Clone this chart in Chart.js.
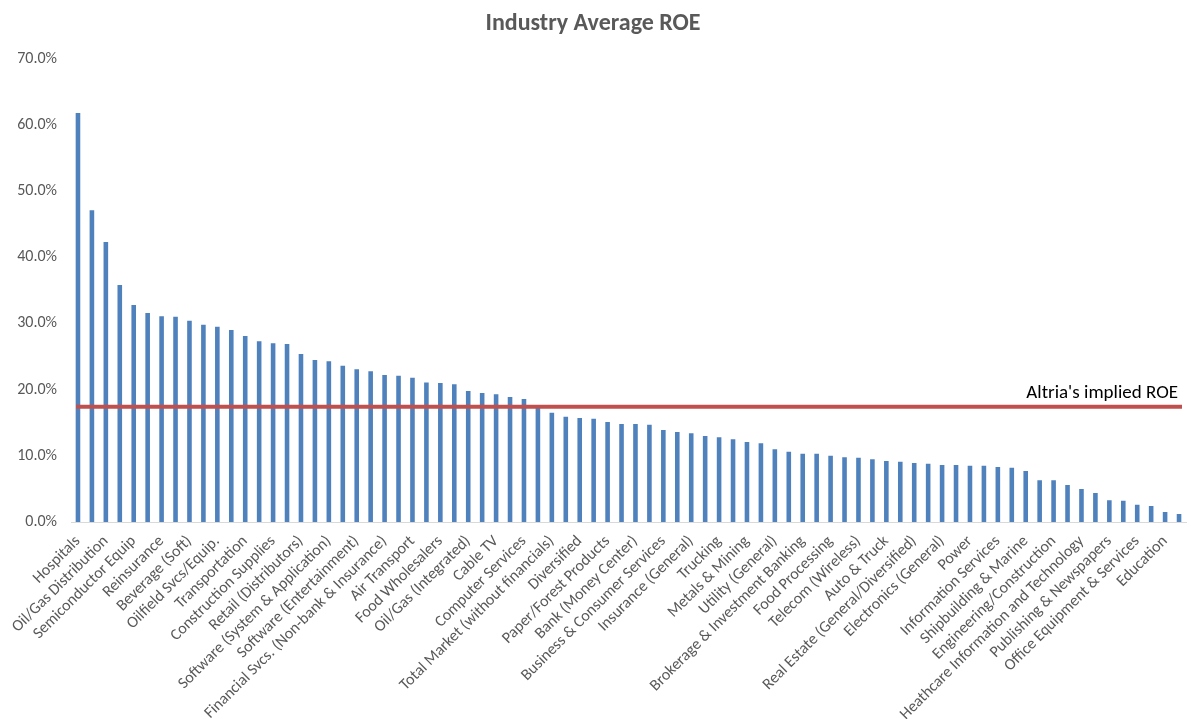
<!DOCTYPE html>
<html>
<head>
<meta charset="utf-8">
<script src="https://cdn.jsdelivr.net/npm/chart.js@4.4.1/dist/chart.umd.min.js"></script>
<style>
    html, body { margin: 0; padding: 0; background: #fff; }
    #wrap { width: 1204px; height: 719px; }
</style>
</head>
<body>
<div id="wrap"><canvas id="roeChart" width="1204" height="719"></canvas></div>
<script>
// Industry names, sorted by ROE (only every other one is printed on the axis)
const industries = [
    'Hospitals', 'Household Products', 'Oil/Gas Distribution', 'Drugs (Pharmaceutical)',
    'Semiconductor Equip', 'Restaurant/Dining', 'Reinsurance', 'Retail (Building Supply)',
    'Beverage (Soft)', 'Computers/Peripherals', 'Oilfield Svcs/Equip.', 'Aerospace/Defense',
    'Transportation', 'Chemical (Specialty)', 'Construction Supplies', 'Apparel',
    'Retail (Distributors)', 'Packaging & Container', 'Software (System & Application)', 'Retail (General)',
    'Software (Entertainment)', 'Machinery', 'Financial Svcs. (Non-bank & Insurance)', 'Homebuilding',
    'Air Transport', 'Building Materials', 'Food Wholesalers', 'Healthcare Products',
    'Oil/Gas (Integrated)', 'Electrical Equipment', 'Cable TV', 'Retail (Automotive)',
    'Computer Services', 'Broadcasting', 'Total Market (without financials)', 'Advertising',
    'Diversified', 'Shoe', 'Paper/Forest Products', 'Toiletries/Cosmetics',
    'Bank (Money Center)', 'Entertainment', 'Business & Consumer Services', 'Chemical (Diversified)',
    'Insurance (General)', 'Recreation', 'Trucking', 'Rubber& Tires',
    'Metals & Mining', 'Steel', 'Utility (General)', 'Auto Parts',
    'Brokerage & Investment Banking', 'Farming/Agriculture', 'Food Processing', 'Telecom. Services',
    'Telecom (Wireless)', 'Retail (Grocery and Food)', 'Auto & Truck', 'Banks (Regional)',
    'Real Estate (General/Diversified)', 'Chemical (Basic)', 'Electronics (General)', 'Electronics (Consumer & Office)',
    'Power', 'Telecom. Equipment', 'Information Services', 'Environmental & Waste Services',
    'Shipbuilding & Marine', 'Hotel/Gaming', 'Engineering/Construction', 'Furn/Home Furnishings',
    'Heathcare Information and Technology', 'Insurance (Life)', 'Publishing & Newspapers', 'Coal & Related Energy',
    'Office Equipment & Services', 'Investments & Asset Management', 'Education', 'Precious Metals'
];

// Average ROE in percent
const roeValues = [
    61.8, 47.1, 42.3, 35.8, 32.8, 31.6, 31.1, 31.0, 30.4, 29.8,
    29.5, 29.0, 28.1, 27.3, 27.0, 26.9, 25.4, 24.5, 24.3, 23.6,
    23.1, 22.8, 22.2, 22.1, 21.8, 21.1, 21.0, 20.8, 19.8, 19.5,
    19.3, 18.9, 18.6, 17.5, 16.5, 15.9, 15.7, 15.6, 15.1, 14.8,
    14.8, 14.7, 13.9, 13.6, 13.4, 13.0, 12.8, 12.5, 12.1, 11.9,
    11.0, 10.6, 10.3, 10.3, 10.0, 9.8, 9.7, 9.5, 9.2, 9.1,
    8.9, 8.8, 8.6, 8.6, 8.5, 8.5, 8.3, 8.2, 7.7, 6.3,
    6.3, 5.6, 5.0, 4.4, 3.3, 3.2, 2.6, 2.4, 1.5, 1.2
];

// Reference level
const altriaLabel = "Altria's implied ROE";
const altriaRoe = 17.4;

// Y axis ticks
const yTicks = [0, 10, 20, 30, 40, 50, 60, 70];

const FONT = 'Carlito, Lato, sans-serif';
const GREY = '#595959';

// Draws the horizontal Altria line and its caption
const referenceLinePlugin = {
    id: 'referenceLine',
    afterDatasetsDraw(chart) {
        const { ctx, chartArea, scales } = chart;
        const y = scales.y.getPixelForValue(altriaRoe);
        ctx.save();
        ctx.strokeStyle = '#C0504D';
        ctx.lineWidth = 4;
        ctx.beginPath();
        ctx.moveTo(chartArea.left + 5, y);
        ctx.lineTo(chartArea.right - 4, y);
        ctx.stroke();

        ctx.fillStyle = '#000000';
        ctx.font = '19px ' + FONT;
        ctx.textAlign = 'right';
        ctx.textBaseline = 'middle';
        ctx.fillText(altriaLabel, chartArea.right - 8, y - 14);
        ctx.restore();
    }
};

const ctx = document.getElementById('roeChart').getContext('2d');
new Chart(ctx, {
    type: 'bar',
    data: {
        labels: industries,
        datasets: [{
            label: 'ROE',
            data: roeValues,
            backgroundColor: '#4F81BD',
            categoryPercentage: 1.0,
            barPercentage: 0.33
        }]
    },
    options: {
        responsive: false,
        animation: false,
        layout: {
            padding: { top: 10, right: 18, left: 0, bottom: 0 }
        },
        plugins: {
            legend: { display: false },
            tooltip: { enabled: false },
            title: {
                display: true,
                text: 'Industry Average ROE',
                color: GREY,
                font: { family: FONT, size: 24, weight: 'bold' },
                padding: { top: 0, bottom: 20 }
            }
        },
        scales: {
            x: {
                grid: { display: false },
                border: { display: true, color: '#D9D9D9', width: 1 },
                ticks: {
                    autoSkip: false,
                    maxRotation: 45,
                    minRotation: 45,
                    color: GREY,
                    padding: 2,
                    font: { family: FONT, size: 16 },
                    callback: function (value, index) {
                        return index % 2 === 0 ? this.getLabelForValue(value) : '';
                    }
                },
                afterFit: (scale) => { scale.height = 197; }
            },
            y: {
                min: 0,
                max: 70,
                afterBuildTicks: (scale) => {
                    scale.ticks = yTicks.map(v => ({ value: v }));
                },
                grid: { display: false },
                border: { display: false },
                ticks: {
                    color: GREY,
                    padding: 6,
                    font: { family: FONT, size: 16 },
                    callback: (value) => value.toFixed(1) + '%'
                },
                afterFit: (scale) => { scale.width = 71; }
            }
        }
    },
    plugins: [referenceLinePlugin]
});
</script>
</body>
</html>
